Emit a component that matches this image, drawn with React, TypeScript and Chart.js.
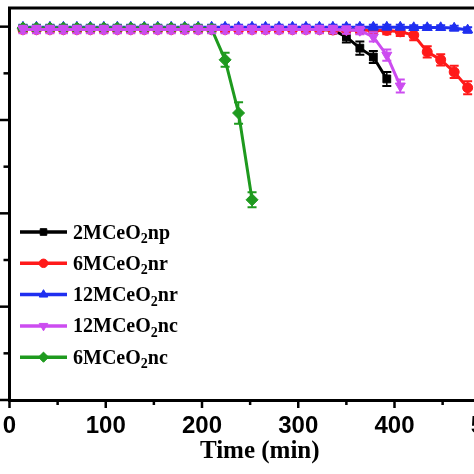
import { useEffect, useRef } from "react";
import { Chart, registerables } from "chart.js";
import { drawPoint } from "chart.js/helpers";
Chart.register(...registerables);

// ---- data ----
const times = [14, 28, 42, 56, 70, 84, 98, 112, 126, 140, 154, 168, 182, 196, 210, 224, 238, 252, 266, 280, 294, 308, 322, 336, 350, 364, 378, 392, 406, 420, 434, 448, 462, 476];

const seriesLabels = ["2MCeO₂np", "6MCeO₂nr", "12MCeO₂nr", "12MCeO₂nc", "6MCeO₂nc"];

const np2 = [99.6, 99.6, 99.6, 99.6, 99.6, 99.6, 99.6, 99.6, 99.6, 99.6, 99.6, 99.6, 99.6, 99.6, 99.6, 99.6, 99.6, 99.6, 99.6, 99.5, 99.5, 99.5, 99.4, 99.3, 97.8, 95.4, 93.5, 88.8];
const nr6 = [99.4, 99.4, 99.4, 99.4, 99.4, 99.4, 99.4, 99.4, 99.4, 99.4, 99.4, 99.4, 99.4, 99.4, 99.4, 99.4, 99.4, 99.4, 99.4, 99.4, 99.4, 99.4, 99.4, 99.3, 99.3, 99.3, 99.2, 99.2, 98.9, 98.2, 94.6, 92.9, 90.3, 86.9];
const nr12 = [99.9, 99.9, 99.9, 99.9, 99.9, 99.9, 99.9, 99.9, 99.9, 99.9, 99.9, 99.9, 99.9, 99.9, 99.9, 99.9, 99.9, 99.9, 99.9, 99.9, 99.9, 99.9, 99.9, 99.9, 99.9, 99.9, 99.9, 99.9, 99.9, 99.8, 99.8, 99.8, 99.7, 99.3];
const nc12 = [99.4, 99.4, 99.4, 99.4, 99.4, 99.4, 99.4, 99.4, 99.4, 99.4, 99.4, 99.4, 99.4, 99.4, 99.4, 99.4, 99.4, 99.4, 99.4, 99.4, 99.4, 99.4, 99.4, 99.4, 99.3, 99.2, 97.8, 93.9, 87.3];
const nc6 = [99.7, 99.7, 99.7, 99.7, 99.7, 99.7, 99.7, 99.7, 99.7, 99.7, 99.7, 99.7, 99.7, 99.7, 99.5, 92.9, 81.5, 62.9];

const np2Err = [0.5, 0.5, 0.5, 0.5, 0.5, 0.5, 0.5, 0.5, 0.5, 0.5, 0.5, 0.5, 0.5, 0.5, 0.5, 0.5, 0.5, 0.5, 0.5, 0.5, 0.5, 0.5, 0.6, 0.7, 1.2, 1.4, 1.3, 1.5];
const nr6Err = [0.6, 0.6, 0.6, 0.6, 0.6, 0.6, 0.6, 0.6, 0.6, 0.6, 0.6, 0.6, 0.6, 0.6, 0.6, 0.6, 0.6, 0.6, 0.6, 0.6, 0.6, 0.6, 0.6, 0.7, 0.7, 0.7, 0.8, 0.8, 0.9, 1.1, 1.2, 1.2, 1.3, 1.4];
const nr12Err = [0.5, 0.5, 0.5, 0.5, 0.5, 0.5, 0.5, 0.5, 0.5, 0.5, 0.5, 0.5, 0.5, 0.5, 0.5, 0.5, 0.5, 0.5, 0.5, 0.5, 0.5, 0.5, 0.5, 0.5, 0.5, 0.5, 0.5, 0.5, 0.5, 0.5, 0.5, 0.5, 0.5, 0.6];
const nc12Err = [0.8, 0.8, 0.8, 0.8, 0.8, 0.8, 0.8, 0.8, 0.8, 0.8, 0.8, 0.8, 0.8, 0.8, 0.8, 0.8, 0.8, 0.8, 0.8, 0.8, 0.8, 0.8, 0.8, 0.8, 0.8, 0.8, 1.0, 1.2, 1.4];
const nc6Err = [0.6, 0.6, 0.6, 0.6, 0.6, 0.6, 0.6, 0.6, 0.6, 0.6, 0.6, 0.6, 0.6, 0.6, 0.8, 1.5, 2.3, 1.6];

const xMajorTicks = [0, 100, 200, 300, 400, 500];
const xMinorTicks = [50, 150, 250, 350, 450];
const yMajorTicks = [20, 40, 60, 80, 100];
const yMinorTicks = [30, 50, 70, 90];

const colors = ["#000000", "#ff1a1a", "#1f2ff0", "#cc4cf0", "#1e9a1e"];
const pointStyles = ["rect", "circle", "triangle", "triangle", "rectRot"];
const rotations = [0, 0, 0, 180, 0];
const radii = [5.5, 5, 5.8, 5.8, 6];
const drawOrders = [5, 4, 3, 1, 2];
const seriesValues = [np2, nr6, nr12, nc12, nc6];
const seriesErrors = [np2Err, nr6Err, nr12Err, nc12Err, nc6Err];

const frameTicksPlugin = {
  id: "frameTicks",
  afterDraw(chart: any) {
    const { ctx, chartArea, scales } = chart;
    const xs = scales.x;
    const ys = scales.y;
    ctx.save();
    ctx.strokeStyle = "#000";
    ctx.lineWidth = 3;
    ctx.beginPath();
    ctx.moveTo(chartArea.left - 1.5, chartArea.top);
    ctx.lineTo(chart.width, chartArea.top);
    ctx.stroke();
    ctx.lineWidth = 2.5;
    for (const v of xMajorTicks) {
      const px = xs.getPixelForValue(v);
      ctx.beginPath();
      ctx.moveTo(px, chartArea.bottom);
      ctx.lineTo(px, chartArea.bottom + 8);
      ctx.stroke();
    }
    for (const v of xMinorTicks) {
      const px = xs.getPixelForValue(v);
      ctx.beginPath();
      ctx.moveTo(px, chartArea.bottom);
      ctx.lineTo(px, chartArea.bottom + 5);
      ctx.stroke();
    }
    for (const v of yMajorTicks) {
      const py = ys.getPixelForValue(v);
      ctx.beginPath();
      ctx.moveTo(chartArea.left, py);
      ctx.lineTo(chartArea.left - 10, py);
      ctx.stroke();
    }
    for (const v of yMinorTicks) {
      const py = ys.getPixelForValue(v);
      ctx.beginPath();
      ctx.moveTo(chartArea.left, py);
      ctx.lineTo(chartArea.left - 6, py);
      ctx.stroke();
    }
    ctx.restore();
  },
};

const errorBarPlugin = {
  id: "errorBars",
  afterDatasetDraw(chart: any, args: any) {
    const ds = chart.data.datasets[args.index];
    const errs: number[] = ds.errors || [];
    const ys = chart.scales.y;
    const { ctx } = chart;
    ctx.save();
    ctx.strokeStyle = ds.borderColor;
    args.meta.data.forEach((el: any, i: number) => {
      const v = ds.data[i].y;
      const e = errs[i] || 0;
      const yt = ys.getPixelForValue(v + e);
      const yb = ys.getPixelForValue(v - e);
      ctx.lineWidth = 1.5;
      ctx.beginPath();
      ctx.moveTo(el.x, yt);
      ctx.lineTo(el.x, yb);
      ctx.stroke();
      ctx.lineWidth = 2;
      ctx.beginPath();
      ctx.moveTo(el.x - 4.5, yt);
      ctx.lineTo(el.x + 4.5, yt);
      ctx.moveTo(el.x - 4.5, yb);
      ctx.lineTo(el.x + 4.5, yb);
      ctx.stroke();
    });
    ctx.restore();
  },
};

const legendPlugin = {
  id: "customLegend",
  afterDraw(chart: any) {
    const { ctx } = chart;
    const top = 232;
    const gap = 31.3;
    ctx.save();
    chart.data.datasets.forEach((ds: any, i: number) => {
      const y = top + i * gap;
      ctx.strokeStyle = ds.borderColor;
      ctx.lineWidth = 3.5;
      ctx.beginPath();
      ctx.moveTo(20, y);
      ctx.lineTo(67, y);
      ctx.stroke();
      ctx.fillStyle = ds.borderColor;
      ctx.strokeStyle = ds.borderColor;
      ctx.lineWidth = 1;
      drawPoint(ctx, { pointStyle: ds.pointStyle, rotation: ds.rotation, radius: ds.pointRadius * 0.85, borderWidth: 1 }, 43.5, y);
      ctx.fillStyle = "#000";
      ctx.textBaseline = "alphabetic";
      const parts = String(ds.label).split("₂");
      let x = 73;
      const base = y + 6.5;
      ctx.font = "bold 20px 'Liberation Serif'";
      ctx.fillText(parts[0], x, base);
      x += ctx.measureText(parts[0]).width;
      if (parts.length > 1) {
        ctx.font = "bold 14px 'Liberation Serif'";
        ctx.fillText("2", x, base + 4.5);
        x += ctx.measureText("2").width;
        ctx.font = "bold 20px 'Liberation Serif'";
        ctx.fillText(parts[1], x, base);
      }
    });
    ctx.restore();
  },
};

export default function App() {
  const ref = useRef<HTMLCanvasElement | null>(null);
  useEffect(() => {
    if (!ref.current) return;
    const datasets = seriesValues.map((vals, i) => ({
      label: seriesLabels[i],
      data: vals.map((v, j) => ({ x: times[j], y: v })),
      errors: seriesErrors[i],
      borderColor: colors[i],
      backgroundColor: colors[i],
      pointBackgroundColor: colors[i],
      pointBorderColor: colors[i],
      borderWidth: 3,
      pointStyle: pointStyles[i],
      rotation: rotations[i],
      pointRotation: rotations[i],
      pointRadius: radii[i],
      pointBorderWidth: 1,
      tension: 0,
      order: drawOrders[i],
      clip: false as any,
    }));
    const chart = new Chart(ref.current, {
      type: "line",
      data: { datasets: datasets as any },
      plugins: [errorBarPlugin, frameTicksPlugin, legendPlugin],
      options: {
        animation: false,
        responsive: false,
        maintainAspectRatio: false,
        layout: { padding: { left: 0, top: 8, right: 10, bottom: 0 } },
        plugins: { legend: { display: false }, tooltip: { enabled: false } },
        scales: {
          x: {
            type: "linear",
            min: 0,
            max: 520,
            afterBuildTicks: (s: any) => {
              s.ticks = xMajorTicks.map((v) => ({ value: v }));
            },
            afterFit: (s: any) => {
              s.height = 74;
              s.paddingLeft = 0;
              s.paddingRight = 0;
            },
            grid: { display: false },
            border: { display: true, color: "#000", width: 3 },
            ticks: {
              autoSkip: false,
              maxRotation: 0,
              color: "#000",
              padding: 4,
              font: { family: "'Liberation Sans'", weight: "bold", size: 24 },
            },
            title: {
              display: true,
              text: "Time (min)",
              color: "#000",
              padding: { top: 0, bottom: 7 },
              font: { family: "'Liberation Serif'", weight: "bold", size: 25 },
            },
          },
          y: {
            type: "linear",
            min: 20,
            max: 104,
            afterFit: (s: any) => {
              s.width = 9.5;
              s.paddingTop = 0;
              s.paddingBottom = 0;
            },
            grid: { display: false },
            border: { display: true, color: "#000", width: 3 },
            ticks: { display: false },
          },
        },
      },
    });
    return () => chart.destroy();
  }, []);
  return (
    <div style={{ position: "fixed", left: 0, top: 0, width: 474, height: 474, overflow: "hidden", background: "#fff" }}>
      <canvas ref={ref} width={520} height={474} style={{ display: "block" }} />
    </div>
  );
}
